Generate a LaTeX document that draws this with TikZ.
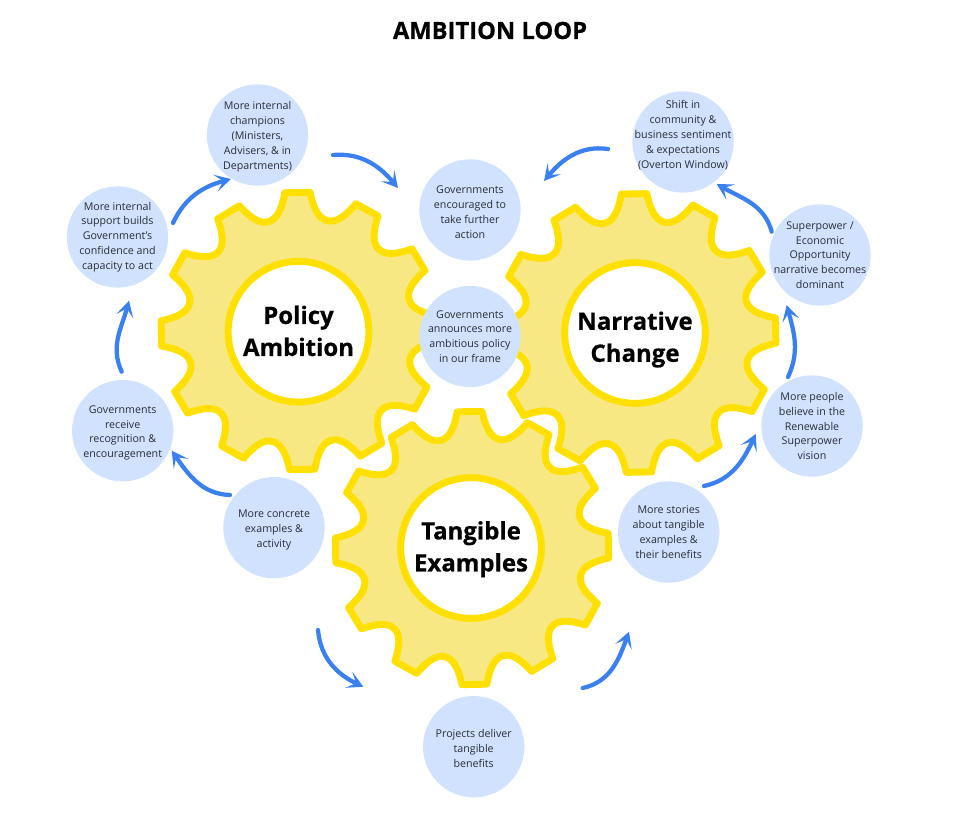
\documentclass[tikz,border=0pt]{standalone}
\usepackage{fontspec}
\setmainfont{Open Sans}
\newfontfamily\headfont[BoldFeatures={FakeBold=0.5}]{Open Sans}
\usetikzlibrary{arrows.meta}
\usetikzlibrary{calc}

\definecolor{gearfill}{HTML}{F7E883}
\definecolor{gearline}{HTML}{FFE000}
\definecolor{bubble}{HTML}{D0E2FE}
\definecolor{flowblue}{HTML}{3A80EE}
\definecolor{bubbletext}{HTML}{2A2C36}

% one tooth per 30 degrees, radius 137 before scaling
\newcommand{\gearoutline}{
    (-5.2:137) \foreach \a in {0,30,...,330} {
        -- (\a+5.2:137)
        .. controls (\a+7.5:121) and (\a+10.5:112.5) .. (\a+15:112)
        .. controls (\a+19.5:112.5) and (\a+22.5:121) .. (\a+24.8:137)
    } -- cycle
}

\begin{document}
\begin{tikzpicture}[
    x=0.75pt, y=-0.75pt,
    gear/.style={draw=gearline, fill=gearfill, line width=5.2pt, line join=round},
    hub/.style={circle, draw=gearline, fill=white, line width=5.2pt, minimum size=105.5pt, inner sep=-10pt, outer sep=0pt, align=center, text=black, font=\fontsize{18}{24}\headfont\bfseries},
    bubblenode/.style={circle, fill=bubble, minimum size=76pt, inner sep=-12pt, outer sep=0pt, align=center, text=bubbletext, font=\fontsize{8}{11.1}\selectfont},
    flow/.style={draw=flowblue, line width=3.2pt, line cap=round, -{Stealth[length=12pt, width=13pt, inset=6pt]}},
]
    \useasboundingbox (0,0) rectangle (980,817);

    \node[font=\fontsize{17.8}{20}\headfont\bfseries] (title) at (490,30.5) {AMBITION LOOP};

    \draw[gear, shift={(299.8,331)}, rotate=1, scale=1.015] \gearoutline;
    \draw[gear, shift={(636.5,333)}, rotate=1, scale=1.02] \gearoutline;
    \draw[gear, shift={(472,548)}, rotate=1] \gearoutline;

    \node[hub, text depth=1.3pt] (policy) at (298.5,331.7) {Policy\\Ambition};
    \node[hub, text height=47.5pt] (narrative) at (635,333) {Narrative\\Change};
    \node[hub, text depth=2.5pt] (tangible) at (471,548) {Tangible\\Examples};

    \node[bubblenode] (support) at (117.5,237) {More internal\\support builds\\Government's\\confidence and\\capacity to act};
    \node[bubblenode, text height=53pt] (champions) at (257.5,135) {More internal\\champions\\(Ministers,\\Advisers, \& in\\Departments)};
    \node[bubblenode, text height=42.5pt] (encouraged) at (470,210) {Governments\\encouraged to\\take further\\action};
    \node[bubblenode] (announces) at (470,336.5) {Governments\\announces more\\ambitious policy\\in our frame};
    \node[bubblenode, text depth=11.5pt] (shift) at (683,142) {Shift in\\community \&\\business sentiment\\\& expectations\\(Overton Window)};
    \node[bubblenode] (superpower) at (820,255) {Superpower /\\Economic\\Opportunity\\narrative becomes\\dominant};
    \node[bubblenode] (believe) at (812,426) {More people\\believe in the\\Renewable\\Superpower\\vision};
    \node[bubblenode] (stories) at (668.7,532) {More stories\\about tangible\\examples \&\\their benefits};
    \node[bubblenode, text height=31pt] (projects) at (473.7,746.7) {Projects deliver\\tangible\\benefits};
    \node[bubblenode, text height=31pt] (concrete) at (274,527.7) {More concrete\\examples \&\\activity};
    \node[bubblenode, text height=42.5pt] (recognition) at (122.7,430.7) {Governments\\receive\\recognition \&\\encouragement};

    \draw[flow] ($(support)+(55.5,-14)$) to[out=65, in=195] ($(champions)+(-26.5,44)$);
    \draw[flow] ($(champions)+(75.5,20)$) to[out=5, in=130] ($(encouraged)+(-72,-22)$);
    \draw[flow] ($(shift)+(-75,7)$) to[out=172, in=50] ($(encouraged)+(74,-29)$);
    \draw[flow] ($(superpower)+(-48.3,-23.3)$) to[out=105, in=-30] ($(shift)+(33.7,42)$);
    \draw[flow] ($(believe)+(-24,-49)$) to[out=65, in=-75] ($(superpower)+(-33.3,50)$);
    \draw[flow] ($(stories)+(35.3,-46)$) to[out=12, in=245] ($(believe)+(-56.3,8)$);
    \draw[flow] ($(projects)+(109,-58.7)$) to[out=12, in=250] ($(stories)+(-39.7,99.7)$);
    \draw[flow] ($(concrete)+(44,102.3)$) to[out=-85, in=155] ($(projects)+(-110.4,-60)$);
    \draw[flow] ($(concrete)+(-44,-32.7)$) to[out=178, in=-55] ($(recognition)+(49,20)$);
    \draw[flow] ($(recognition)+(-1,-59)$) to[out=115, in=-105] ($(support)+(11.5,63.7)$);

\end{tikzpicture}
\end{document}
